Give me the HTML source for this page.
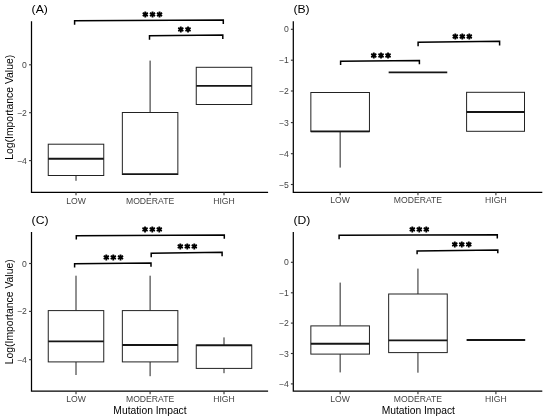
<!DOCTYPE html>
<html lang="en"><head><meta charset="utf-8"><title>Mutation Impact boxplots</title>
<style>
html,body{margin:0;padding:0;background:#fff;}
body{width:550px;height:419px;overflow:hidden;}
svg{display:block;font-family:"Liberation Sans",Arial,Helvetica,sans-serif;}
</style></head><body>
<svg width="550" height="419" viewBox="0 0 550 419">
<rect width="550" height="419" fill="#fff"/>
<line x1="76.00" y1="175.50" x2="76.00" y2="180.80" stroke="#222" stroke-width="1.0" stroke-linecap="butt"/>
<rect x="48.25" y="144.20" width="55.50" height="31.30" fill="#fff" stroke="#222" stroke-width="1.0"/>
<line x1="48.25" y1="158.70" x2="103.75" y2="158.70" stroke="#151515" stroke-width="1.85" stroke-linecap="butt"/>
<line x1="150.10" y1="60.60" x2="150.10" y2="112.50" stroke="#222" stroke-width="1.0" stroke-linecap="butt"/>
<rect x="122.35" y="112.50" width="55.50" height="62.00" fill="#fff" stroke="#222" stroke-width="1.0"/>
<line x1="122.35" y1="174.10" x2="177.85" y2="174.10" stroke="#151515" stroke-width="1.85" stroke-linecap="butt"/>
<rect x="196.25" y="67.30" width="55.50" height="37.20" fill="#fff" stroke="#222" stroke-width="1.0"/>
<line x1="196.25" y1="85.80" x2="251.75" y2="85.80" stroke="#151515" stroke-width="1.85" stroke-linecap="butt"/>
<path d="M31.50 21.20V192.35H268.10" fill="none" stroke="#000" stroke-width="1.25" stroke-linecap="butt" stroke-linejoin="miter"/>
<line x1="29.10" y1="64.80" x2="31.50" y2="64.80" stroke="#333" stroke-width="1.125" stroke-linecap="butt"/>
<text x="26.90" y="67.80" font-size="8.65" fill="#444" text-anchor="end" >0</text>
<line x1="29.10" y1="112.70" x2="31.50" y2="112.70" stroke="#333" stroke-width="1.125" stroke-linecap="butt"/>
<text x="26.90" y="115.70" font-size="8.65" fill="#444" text-anchor="end" >−2</text>
<line x1="29.10" y1="160.60" x2="31.50" y2="160.60" stroke="#333" stroke-width="1.125" stroke-linecap="butt"/>
<text x="26.90" y="163.60" font-size="8.65" fill="#444" text-anchor="end" >−4</text>
<line x1="76.00" y1="192.35" x2="76.00" y2="195.35" stroke="#333" stroke-width="1.125" stroke-linecap="butt"/>
<text x="76.00" y="203.50" font-size="8.65" fill="#444" text-anchor="middle" >LOW</text>
<line x1="150.10" y1="192.35" x2="150.10" y2="195.35" stroke="#333" stroke-width="1.125" stroke-linecap="butt"/>
<text x="150.10" y="203.50" font-size="8.65" fill="#444" text-anchor="middle" >MODERATE</text>
<line x1="224.00" y1="192.35" x2="224.00" y2="195.35" stroke="#333" stroke-width="1.125" stroke-linecap="butt"/>
<text x="224.00" y="203.50" font-size="8.65" fill="#444" text-anchor="middle" >HIGH</text>
<path d="M74.60 24.65L74.60 20.65L223.30 20.05L223.30 24.05" fill="none" stroke="#000" stroke-width="1.5" stroke-linejoin="miter"/>
<text transform="translate(0 20.24) scale(1 1.05)" x="145.35 152.45 159.55" y="0" font-size="9.7" font-family="DejaVu Sans, sans-serif" font-weight="bold" text-anchor="middle" fill="#000" stroke="#000" stroke-width="1.0">***</text>
<path d="M149.50 39.75L149.50 35.75L222.80 35.05L222.80 39.05" fill="none" stroke="#000" stroke-width="1.5" stroke-linejoin="miter"/>
<text transform="translate(0 35.32) scale(1 1.05)" x="180.85 187.95" y="0" font-size="9.7" font-family="DejaVu Sans, sans-serif" font-weight="bold" text-anchor="middle" fill="#000" stroke="#000" stroke-width="1.0">**</text>
<text transform="translate(31.60 12.5) scale(1.05 1)" font-size="11.6" fill="#000">(A)</text>
<text transform="translate(12.5 107.30) rotate(-90)" font-size="10.4" fill="#000" text-anchor="middle">Log(Importance Value)</text>
<line x1="340.15" y1="131.60" x2="340.15" y2="167.60" stroke="#222" stroke-width="1.0" stroke-linecap="butt"/>
<rect x="310.85" y="92.50" width="58.60" height="39.10" fill="#fff" stroke="#222" stroke-width="1.0"/>
<line x1="310.85" y1="131.30" x2="369.45" y2="131.30" stroke="#151515" stroke-width="1.85" stroke-linecap="butt"/>
<line x1="388.65" y1="72.30" x2="447.25" y2="72.30" stroke="#151515" stroke-width="1.85" stroke-linecap="butt"/>
<rect x="466.60" y="92.30" width="57.90" height="39.00" fill="#fff" stroke="#222" stroke-width="1.0"/>
<line x1="466.60" y1="111.95" x2="524.50" y2="111.95" stroke="#151515" stroke-width="1.85" stroke-linecap="butt"/>
<path d="M293.30 21.20V192.35H542.30" fill="none" stroke="#000" stroke-width="1.25" stroke-linecap="butt" stroke-linejoin="miter"/>
<line x1="290.90" y1="29.30" x2="293.30" y2="29.30" stroke="#333" stroke-width="1.125" stroke-linecap="butt"/>
<text x="288.70" y="32.30" font-size="8.65" fill="#444" text-anchor="end" >0</text>
<line x1="290.90" y1="60.20" x2="293.30" y2="60.20" stroke="#333" stroke-width="1.125" stroke-linecap="butt"/>
<text x="288.70" y="63.20" font-size="8.65" fill="#444" text-anchor="end" >−1</text>
<line x1="290.90" y1="91.00" x2="293.30" y2="91.00" stroke="#333" stroke-width="1.125" stroke-linecap="butt"/>
<text x="288.70" y="94.00" font-size="8.65" fill="#444" text-anchor="end" >−2</text>
<line x1="290.90" y1="122.60" x2="293.30" y2="122.60" stroke="#333" stroke-width="1.125" stroke-linecap="butt"/>
<text x="288.70" y="125.60" font-size="8.65" fill="#444" text-anchor="end" >−3</text>
<line x1="290.90" y1="153.70" x2="293.30" y2="153.70" stroke="#333" stroke-width="1.125" stroke-linecap="butt"/>
<text x="288.70" y="156.70" font-size="8.65" fill="#444" text-anchor="end" >−4</text>
<line x1="290.90" y1="184.50" x2="293.30" y2="184.50" stroke="#333" stroke-width="1.125" stroke-linecap="butt"/>
<text x="288.70" y="187.50" font-size="8.65" fill="#444" text-anchor="end" >−5</text>
<line x1="340.15" y1="192.35" x2="340.15" y2="195.35" stroke="#333" stroke-width="1.125" stroke-linecap="butt"/>
<text x="340.15" y="203.00" font-size="8.65" fill="#444" text-anchor="middle" >LOW</text>
<line x1="417.95" y1="192.35" x2="417.95" y2="195.35" stroke="#333" stroke-width="1.125" stroke-linecap="butt"/>
<text x="417.95" y="203.00" font-size="8.65" fill="#444" text-anchor="middle" >MODERATE</text>
<line x1="495.90" y1="192.35" x2="495.90" y2="195.35" stroke="#333" stroke-width="1.125" stroke-linecap="butt"/>
<text x="495.90" y="203.00" font-size="8.65" fill="#444" text-anchor="middle" >HIGH</text>
<path d="M340.60 64.95L340.60 61.15L419.40 60.45L419.40 64.25" fill="none" stroke="#000" stroke-width="1.5" stroke-linejoin="miter"/>
<text transform="translate(0 60.89) scale(1 1.12)" x="373.90 381.00 388.10" y="0" font-size="9.7" font-family="DejaVu Sans, sans-serif" font-weight="bold" text-anchor="middle" fill="#000" stroke="#000" stroke-width="1.0">***</text>
<path d="M418.10 46.25L418.10 42.15L499.60 41.35L499.60 45.45" fill="none" stroke="#000" stroke-width="1.5" stroke-linejoin="miter"/>
<text transform="translate(0 41.82) scale(1 1.12)" x="455.20 462.30 469.40" y="0" font-size="9.7" font-family="DejaVu Sans, sans-serif" font-weight="bold" text-anchor="middle" fill="#000" stroke="#000" stroke-width="1.0">***</text>
<text transform="translate(293.40 12.5) scale(1.05 1)" font-size="11.6" fill="#000">(B)</text>
<line x1="76.00" y1="275.70" x2="76.00" y2="310.60" stroke="#222" stroke-width="1.0" stroke-linecap="butt"/>
<line x1="76.00" y1="361.90" x2="76.00" y2="375.00" stroke="#222" stroke-width="1.0" stroke-linecap="butt"/>
<rect x="48.25" y="310.60" width="55.50" height="51.30" fill="#fff" stroke="#222" stroke-width="1.0"/>
<line x1="48.25" y1="341.40" x2="103.75" y2="341.40" stroke="#151515" stroke-width="1.85" stroke-linecap="butt"/>
<line x1="150.10" y1="275.70" x2="150.10" y2="310.60" stroke="#222" stroke-width="1.0" stroke-linecap="butt"/>
<line x1="150.10" y1="361.90" x2="150.10" y2="376.20" stroke="#222" stroke-width="1.0" stroke-linecap="butt"/>
<rect x="122.35" y="310.60" width="55.50" height="51.30" fill="#fff" stroke="#222" stroke-width="1.0"/>
<line x1="122.35" y1="345.00" x2="177.85" y2="345.00" stroke="#151515" stroke-width="1.85" stroke-linecap="butt"/>
<line x1="224.00" y1="337.40" x2="224.00" y2="345.00" stroke="#222" stroke-width="1.0" stroke-linecap="butt"/>
<line x1="224.00" y1="368.40" x2="224.00" y2="373.20" stroke="#222" stroke-width="1.0" stroke-linecap="butt"/>
<rect x="196.25" y="345.00" width="55.50" height="23.40" fill="#fff" stroke="#222" stroke-width="1.0"/>
<line x1="196.25" y1="345.40" x2="251.75" y2="345.40" stroke="#151515" stroke-width="1.85" stroke-linecap="butt"/>
<path d="M31.50 231.90V391.20H268.10" fill="none" stroke="#000" stroke-width="1.25" stroke-linecap="butt" stroke-linejoin="miter"/>
<line x1="29.10" y1="263.50" x2="31.50" y2="263.50" stroke="#333" stroke-width="1.125" stroke-linecap="butt"/>
<text x="26.90" y="266.50" font-size="8.65" fill="#444" text-anchor="end" >0</text>
<line x1="29.10" y1="311.40" x2="31.50" y2="311.40" stroke="#333" stroke-width="1.125" stroke-linecap="butt"/>
<text x="26.90" y="314.40" font-size="8.65" fill="#444" text-anchor="end" >−2</text>
<line x1="29.10" y1="359.70" x2="31.50" y2="359.70" stroke="#333" stroke-width="1.125" stroke-linecap="butt"/>
<text x="26.90" y="362.70" font-size="8.65" fill="#444" text-anchor="end" >−4</text>
<line x1="76.00" y1="391.20" x2="76.00" y2="394.20" stroke="#333" stroke-width="1.125" stroke-linecap="butt"/>
<text x="76.00" y="402.00" font-size="8.65" fill="#444" text-anchor="middle" >LOW</text>
<line x1="150.10" y1="391.20" x2="150.10" y2="394.20" stroke="#333" stroke-width="1.125" stroke-linecap="butt"/>
<text x="150.10" y="402.00" font-size="8.65" fill="#444" text-anchor="middle" >MODERATE</text>
<line x1="224.00" y1="391.20" x2="224.00" y2="394.20" stroke="#333" stroke-width="1.125" stroke-linecap="butt"/>
<text x="224.00" y="402.00" font-size="8.65" fill="#444" text-anchor="middle" >HIGH</text>
<path d="M76.30 239.55L76.30 235.75L224.30 235.05L224.30 238.85" fill="none" stroke="#000" stroke-width="1.5" stroke-linejoin="miter"/>
<text transform="translate(0 234.79) scale(1 1.03)" x="145.10 152.20 159.30" y="0" font-size="9.7" font-family="DejaVu Sans, sans-serif" font-weight="bold" text-anchor="middle" fill="#000" stroke="#000" stroke-width="1.0">***</text>
<path d="M74.60 267.45L74.60 263.75L151.00 263.05L151.00 266.75" fill="none" stroke="#000" stroke-width="1.5" stroke-linejoin="miter"/>
<text transform="translate(0 262.79) scale(1 1.03)" x="106.30 113.40 120.50" y="0" font-size="9.7" font-family="DejaVu Sans, sans-serif" font-weight="bold" text-anchor="middle" fill="#000" stroke="#000" stroke-width="1.0">***</text>
<path d="M151.20 257.25L151.20 253.25L222.10 252.25L222.10 256.25" fill="none" stroke="#000" stroke-width="1.5" stroke-linejoin="miter"/>
<text transform="translate(0 252.14) scale(1 1.03)" x="180.20 187.30 194.40" y="0" font-size="9.7" font-family="DejaVu Sans, sans-serif" font-weight="bold" text-anchor="middle" fill="#000" stroke="#000" stroke-width="1.0">***</text>
<text transform="translate(31.60 223.5) scale(1.05 1)" font-size="11.6" fill="#000">(C)</text>
<text transform="translate(12.9 311.80) rotate(-90)" font-size="10.4" fill="#000" text-anchor="middle">Log(Importance Value)</text>
<text x="150.00" y="413.80" font-size="10.3" fill="#000" text-anchor="middle" >Mutation Impact</text>
<line x1="340.15" y1="282.60" x2="340.15" y2="325.90" stroke="#222" stroke-width="1.0" stroke-linecap="butt"/>
<line x1="340.15" y1="354.10" x2="340.15" y2="372.40" stroke="#222" stroke-width="1.0" stroke-linecap="butt"/>
<rect x="310.85" y="325.90" width="58.60" height="28.20" fill="#fff" stroke="#222" stroke-width="1.0"/>
<line x1="310.85" y1="343.70" x2="369.45" y2="343.70" stroke="#151515" stroke-width="1.85" stroke-linecap="butt"/>
<line x1="417.95" y1="268.60" x2="417.95" y2="294.00" stroke="#222" stroke-width="1.0" stroke-linecap="butt"/>
<line x1="417.95" y1="352.60" x2="417.95" y2="372.70" stroke="#222" stroke-width="1.0" stroke-linecap="butt"/>
<rect x="388.65" y="294.00" width="58.60" height="58.60" fill="#fff" stroke="#222" stroke-width="1.0"/>
<line x1="388.65" y1="340.40" x2="447.25" y2="340.40" stroke="#151515" stroke-width="1.85" stroke-linecap="butt"/>
<line x1="466.60" y1="340.00" x2="525.20" y2="340.00" stroke="#151515" stroke-width="1.85" stroke-linecap="butt"/>
<path d="M293.30 231.90V391.20H542.30" fill="none" stroke="#000" stroke-width="1.25" stroke-linecap="butt" stroke-linejoin="miter"/>
<line x1="290.90" y1="262.30" x2="293.30" y2="262.30" stroke="#333" stroke-width="1.125" stroke-linecap="butt"/>
<text x="288.70" y="265.30" font-size="8.65" fill="#444" text-anchor="end" >0</text>
<line x1="290.90" y1="292.80" x2="293.30" y2="292.80" stroke="#333" stroke-width="1.125" stroke-linecap="butt"/>
<text x="288.70" y="295.80" font-size="8.65" fill="#444" text-anchor="end" >−1</text>
<line x1="290.90" y1="323.10" x2="293.30" y2="323.10" stroke="#333" stroke-width="1.125" stroke-linecap="butt"/>
<text x="288.70" y="326.10" font-size="8.65" fill="#444" text-anchor="end" >−2</text>
<line x1="290.90" y1="353.50" x2="293.30" y2="353.50" stroke="#333" stroke-width="1.125" stroke-linecap="butt"/>
<text x="288.70" y="356.50" font-size="8.65" fill="#444" text-anchor="end" >−3</text>
<line x1="290.90" y1="383.90" x2="293.30" y2="383.90" stroke="#333" stroke-width="1.125" stroke-linecap="butt"/>
<text x="288.70" y="386.90" font-size="8.65" fill="#444" text-anchor="end" >−4</text>
<line x1="340.15" y1="391.20" x2="340.15" y2="394.20" stroke="#333" stroke-width="1.125" stroke-linecap="butt"/>
<text x="340.15" y="402.00" font-size="8.65" fill="#444" text-anchor="middle" >LOW</text>
<line x1="417.95" y1="391.20" x2="417.95" y2="394.20" stroke="#333" stroke-width="1.125" stroke-linecap="butt"/>
<text x="417.95" y="402.00" font-size="8.65" fill="#444" text-anchor="middle" >MODERATE</text>
<line x1="495.90" y1="391.20" x2="495.90" y2="394.20" stroke="#333" stroke-width="1.125" stroke-linecap="butt"/>
<text x="495.90" y="402.00" font-size="8.65" fill="#444" text-anchor="middle" >HIGH</text>
<path d="M339.10 239.15L339.10 235.35L497.30 234.65L497.30 238.45" fill="none" stroke="#000" stroke-width="1.5" stroke-linejoin="miter"/>
<text transform="translate(0 234.70) scale(1 1.03)" x="412.20 419.30 426.40" y="0" font-size="9.7" font-family="DejaVu Sans, sans-serif" font-weight="bold" text-anchor="middle" fill="#000" stroke="#000" stroke-width="1.0">***</text>
<path d="M417.10 254.35L417.10 250.95L497.80 249.95L497.80 253.35" fill="none" stroke="#000" stroke-width="1.5" stroke-linejoin="miter"/>
<text transform="translate(0 250.10) scale(1 1.03)" x="454.70 461.80 468.90" y="0" font-size="9.7" font-family="DejaVu Sans, sans-serif" font-weight="bold" text-anchor="middle" fill="#000" stroke="#000" stroke-width="1.0">***</text>
<text transform="translate(293.40 223.5) scale(1.05 1)" font-size="11.6" fill="#000">(D)</text>
<text x="418.30" y="413.80" font-size="10.3" fill="#000" text-anchor="middle" >Mutation Impact</text>
</svg>
</body></html>
